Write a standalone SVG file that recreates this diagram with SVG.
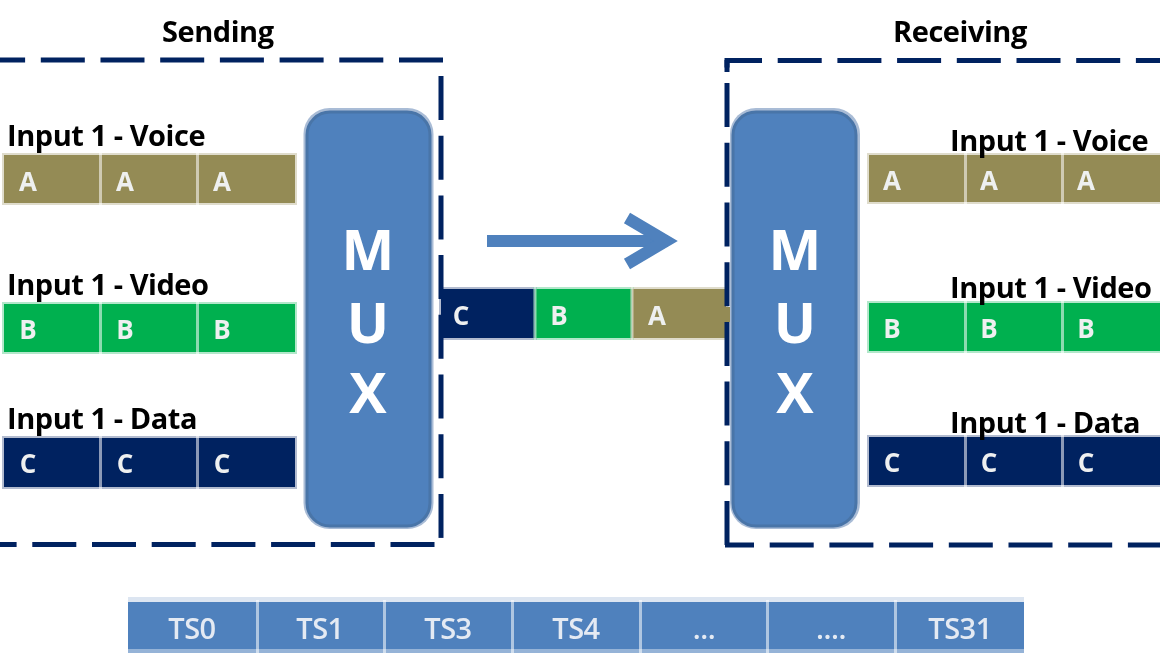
<svg xmlns="http://www.w3.org/2000/svg" width="1160" height="665" viewBox="0 0 1160 665">
<style>
.t{font-family:"Open Sans","Liberation Sans",sans-serif}
.h{font-size:29px;font-weight:700;fill:#000;letter-spacing:-.45px}
.c{font-size:26px;font-weight:700;fill:#eef0f0;text-anchor:middle}
.m{font-size:56px;font-weight:700;fill:#fff;text-anchor:middle}
.ts{font-size:29px;font-weight:600;fill:#e4eaf3;text-anchor:middle;letter-spacing:-.5px}
.a{fill:#948b54;stroke:#948b54}.g{fill:#00b050;stroke:#00b050}.n{fill:#002060;stroke:#002060}
.a,.g,.n{stroke-width:4;stroke-opacity:.3;paint-order:stroke}
.b{fill:#4f81bd}
.d{stroke:#fff;stroke-opacity:.55;stroke-width:3;fill:none}
.box{fill:none;stroke:#002060;stroke-width:5;stroke-dasharray:44 15.7}
.mo{fill:#a9bcd6}
.mi{fill:#4f81bd;stroke:#4a74a8;stroke-width:3}
</style>
<defs><filter id="s" x="-2%" y="-2%" width="104%" height="104%"><feGaussianBlur stdDeviation="0.7"/></filter></defs>
<rect width="1160" height="665" fill="#fff"/>
<g filter="url(#s)">
<g id="channel"><rect class="n" x="441" y="289" width="94" height="49"/><rect class="g" x="535" y="289" width="97" height="49"/><rect class="a" x="632" y="289" width="94" height="49"/><rect x="724" y="307" width="8" height="15" fill="#948b54"/><path class="d" d="M535 287V340M632 287V340"/><text class="t c" x="461" y="325">C</text><text class="t c" x="559" y="325">B</text><text class="t c" x="657" y="325">A</text></g>
<g id="sending-box"><path class="box" d="M-18.900 60H443"/><path class="box" d="M441 76V545"/><path class="box" d="M434.500 544.500H-20"/><text class="t h" x="162" y="42">Sending</text></g>
<g id="receiving-box"><path class="box" d="M725 60.500H1160" stroke-dashoffset="7"/><path class="box" d="M727 545V60"/><path class="box" d="M727 58V72" stroke-dasharray="none"/><path class="box" d="M725 545H1160" stroke-dashoffset="15"/><text class="t h" x="893" y="42">Receiving</text></g>
<g id="input-voice"><rect class="a" x="4" y="155" width="291" height="48"/><path class="d" d="M100.500 152V206M197.500 152V206"/><text class="t c" x="28" y="191">A</text><text class="t c" x="125" y="191">A</text><text class="t c" x="222" y="191">A</text><text class="t h" x="7" y="146">Input 1 - Voice</text></g>
<g id="input-video"><rect class="g" x="4" y="304" width="291" height="48"/><path class="d" d="M100.500 302V354M197.500 302V354"/><text class="t c" x="28" y="339">B</text><text class="t c" x="125" y="339">B</text><text class="t c" x="222" y="339">B</text><text class="t h" x="7" y="295">Input 1 - Video</text></g>
<g id="input-data"><rect class="n" x="4" y="438" width="291" height="49"/><path class="d" d="M100.500 436V489M197.500 436V489"/><text class="t c" x="28" y="473">C</text><text class="t c" x="125" y="473">C</text><text class="t c" x="222" y="473">C</text><text class="t h" x="7" y="429">Input 1 - Data</text></g>
<g id="mux-send"><rect class="mo" x="303.500" y="108" width="130" height="421" rx="26"/><rect class="mi" x="307" y="112" width="123" height="414" rx="23"/><text class="t m" x="368" y="270">M</text><text class="t m" x="368" y="343">U</text><text class="t m" x="368" y="413">X</text></g>
<g id="mux-receive"><rect class="mo" x="730" y="108" width="130" height="421" rx="26"/><rect class="mi" x="733" y="112" width="123" height="414" rx="23"/><text class="t m" x="795" y="270">M</text><text class="t m" x="795" y="343">U</text><text class="t m" x="795" y="413">X</text></g>
<g id="output-voice"><rect class="a" x="869" y="155" width="291" height="47"/><path class="d" d="M965.500 152V205M1062.500 152V205"/><text class="t c" x="892" y="190">A</text><text class="t c" x="989" y="190">A</text><text class="t c" x="1086" y="190">A</text><text class="t h" x="950" y="151">Input 1 - Voice</text></g>
<g id="output-video"><rect class="g" x="869" y="303" width="291" height="48"/><path class="d" d="M965.500 300V353M1062.500 300V353"/><text class="t c" x="892" y="338">B</text><text class="t c" x="989" y="338">B</text><text class="t c" x="1086" y="338">B</text><text class="t h" x="950" y="298">Input 1 - Video</text></g>
<g id="output-data"><rect class="n" x="869" y="437" width="291" height="48"/><path class="d" d="M965.500 434V488M1062.500 434V488"/><text class="t c" x="892" y="472">C</text><text class="t c" x="989" y="472">C</text><text class="t c" x="1086" y="472">C</text><text class="t h" x="950" y="433">Input 1 - Data</text></g>
<g id="connectors"><path d="M487 241H668" fill="none" stroke="#4f81bd" stroke-width="12"/><path d="M627 218L666 241L627 264" fill="none" stroke="#4f81bd" stroke-width="12"/></g>
<g id="timeslots"><rect x="128" y="597" width="896" height="6" fill="#dce5f1"/><rect x="128" y="649" width="896" height="4" fill="#95b3d7"/><rect class="b" x="128" y="602" width="896" height="47"/><path class="d" d="M257.500 600V653M384.500 600V653M512.500 600V653M640.500 600V653M767.500 600V653M895.500 600V653"/><text class="t ts" x="192" y="639">TS0</text><text class="t ts" x="320" y="639">TS1</text><text class="t ts" x="448" y="639">TS3</text><text class="t ts" x="576" y="639">TS4</text><text class="t ts" x="704" y="639">...</text><text class="t ts" x="831" y="639">....</text><text class="t ts" x="960" y="639">TS31</text></g>
</g>
</svg>
